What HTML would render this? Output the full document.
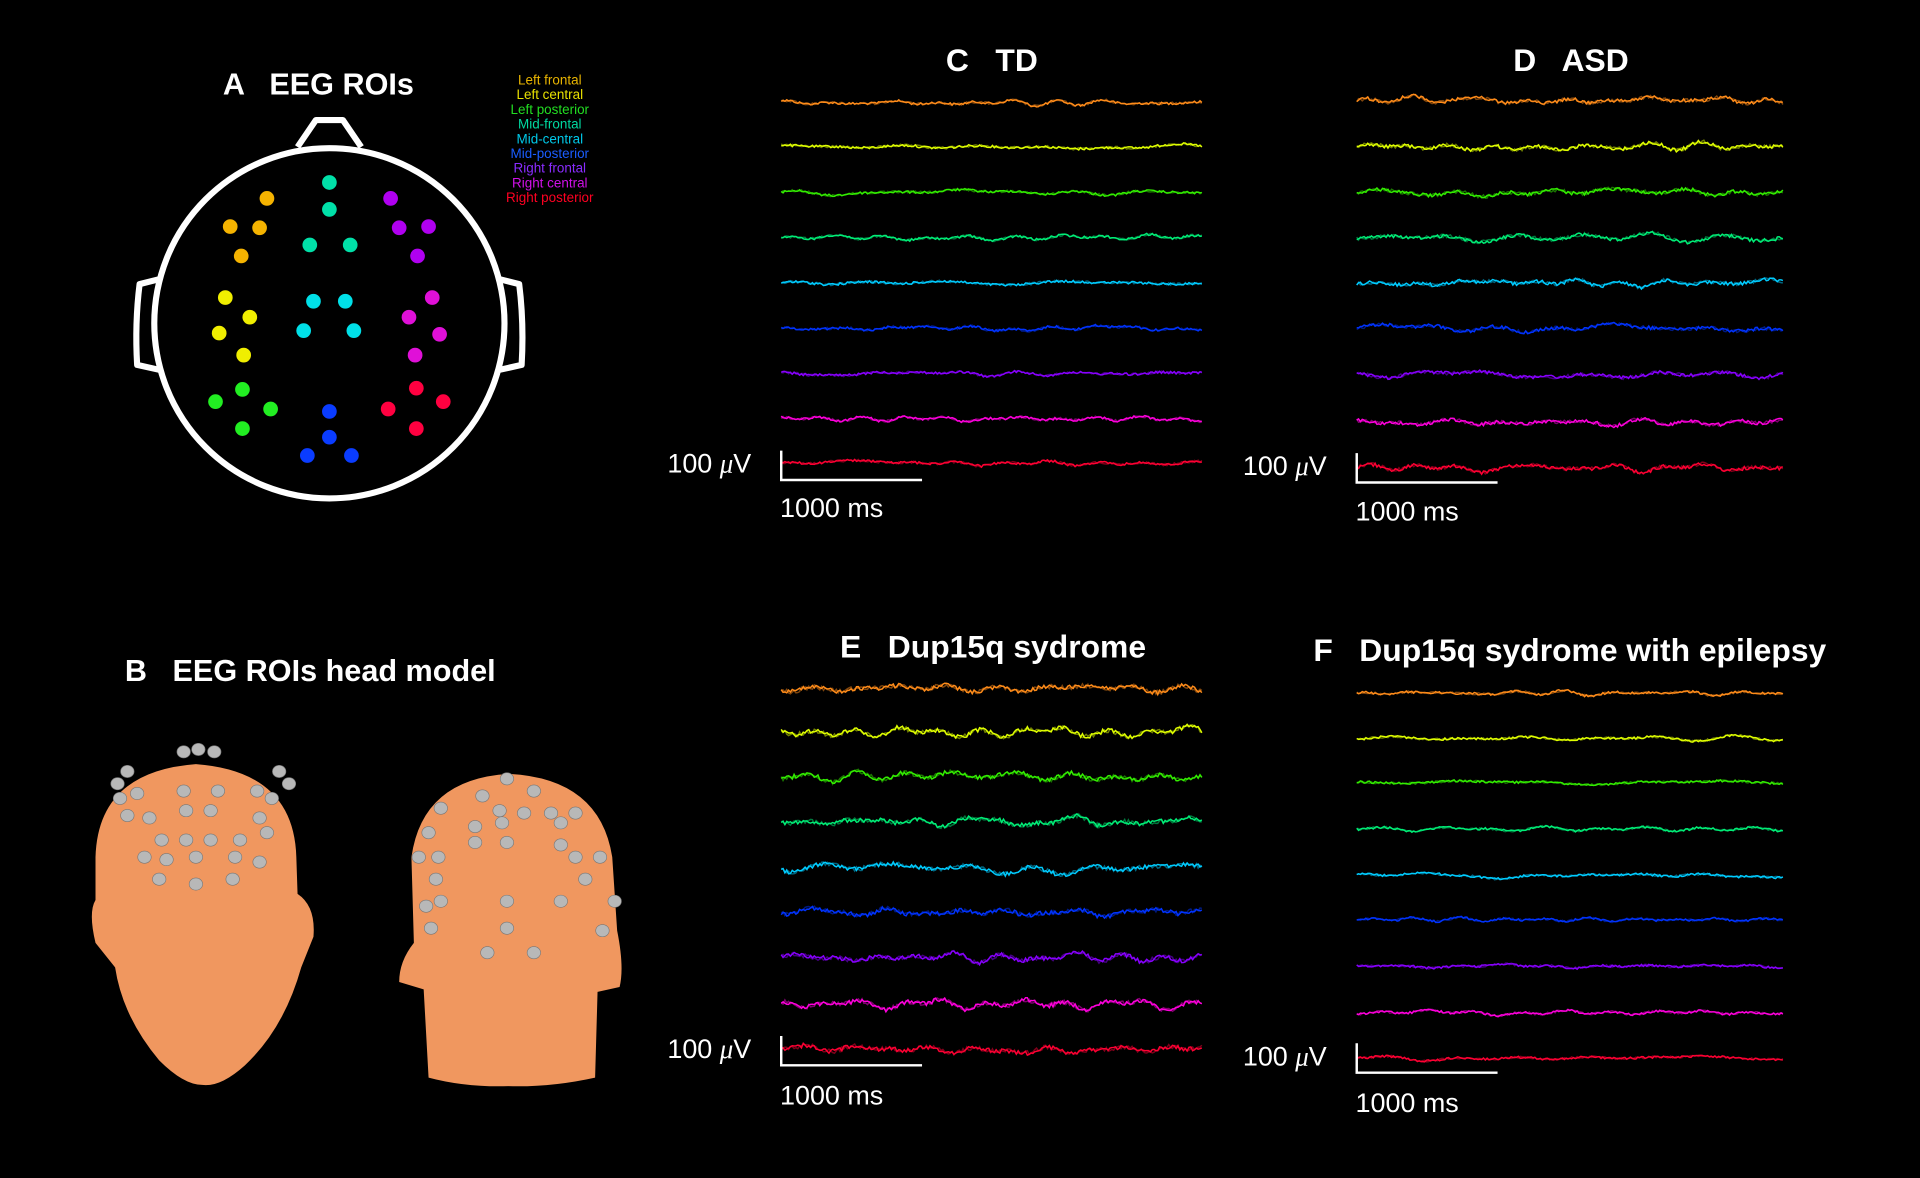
<!DOCTYPE html>
<html><head><meta charset="utf-8"><style>
html,body{margin:0;padding:0;background:#000;width:1920px;height:1178px;overflow:hidden}
svg{display:block}
text{font-family:"Liberation Sans",Arial,sans-serif;fill:#fff;white-space:pre}
</style></head><body>
<svg id="s" width="1920" height="1178" viewBox="0 0 1568 962" xmlns="http://www.w3.org/2000/svg" xml:space="preserve">
<rect width="1568" height="962" fill="#000"/>
<text x="182" y="77" font-size="25" font-weight="bold">A   EEG ROIs</text>
<g font-size="11" text-anchor="middle">
<text x="449" y="69" style="fill:#e8b400">Left frontal</text>
<text x="449" y="81" style="fill:#e8e000">Left central</text>
<text x="449" y="93" style="fill:#22dd22">Left posterior</text>
<text x="449" y="105" style="fill:#00d8a0">Mid-frontal</text>
<text x="449" y="117" style="fill:#00c8e8">Mid-central</text>
<text x="449" y="129" style="fill:#1a5cff">Mid-posterior</text>
<text x="449" y="141" style="fill:#8a2cff">Right frontal</text>
<text x="449" y="153" style="fill:#d010e8">Right central</text>
<text x="449" y="165" style="fill:#ff0022">Right posterior</text>
</g>
<g fill="none" stroke="#fff" stroke-width="5" stroke-linejoin="round">
<path d="M243,120 L258,98 L280,98 L295,120"/>
<path d="M130,228 L114,232 Q110,264 112,298 L130,302"/>
<path d="M408,228 L424,232 Q428,264 426,298 L408,302"/>
<circle cx="269" cy="264" r="143" fill="#000"/>
</g>
<g id="dots"></g>
<text x="102" y="556" font-size="25" font-weight="bold">B   EEG ROIs head model</text>
<path fill="#f0975f" d="M78,700 Q80,630 160,624 Q240,630 242,700 L243,730 Q258,740 256,765 L246,790 Q232,840 200,870 Q180,888 165,886 Q150,886 130,866 Q100,830 94,790 L78,770 Q72,745 78,735 Z"/>
<path fill="#f0975f" d="M336,700 Q345,636 416,632 Q490,636 500,700 L504,760 Q510,790 506,806 L488,810 L486,880 Q450,888 415,887 Q380,888 350,880 L346,808 L326,802 Q326,785 338,770 Z"/>
<g id="elec" fill="#b8b8b8" stroke="#777" stroke-width="0.5"></g>
<g font-size="26" font-weight="bold" text-anchor="middle">
<text x="810" y="58">C   TD</text>
<text x="1283" y="58">D   ASD</text>
<text x="811" y="537">E   Dup15q sydrome</text>
<text x="1282" y="540">F   Dup15q sydrome with epilepsy</text>
</g>
<g id="traces" fill="none" stroke-width="1.2"></g>
<g id="bars" stroke="#fff" stroke-width="2" fill="none"></g>
<g font-size="22" id="blabels"></g>
</svg>
<script>
var NS="http://www.w3.org/2000/svg";
function el(p,t,a,txt){var e=document.createElementNS(NS,t);for(var k in a)e.setAttribute(k,a[k]);if(txt)e.textContent=txt;p.appendChild(e);return e;}
var dots=document.getElementById('dots');
var D=[["#f5b300",[[218,162],[188,185],[212,186],[197,209]]],["#f0ee00",[[184,243],[204,259],[179,272],[199,290]]],["#22ee22",[[176,328],[198,318],[221,334],[198,350]]],["#00e0a8",[[269,149],[269,171],[253,200],[286,200]]],["#00e0e8",[[256,246],[282,246],[248,270],[289,270]]],["#0a3cff",[[269,336],[269,357],[251,372],[287,372]]],["#b000f0",[[319,162],[326,186],[350,185],[341,209]]],["#e010d8",[[353,243],[334,259],[359,273],[339,290]]],["#ff0040",[[317,334],[340,317],[362,328],[340,350]]]];
D.forEach(function(g){g[1].forEach(function(p){el(dots,'circle',{cx:p[0],cy:p[1],r:6,fill:g[0]});});});
var E=document.getElementById('elec');
[[162,612],[150,614],[175,614],[104,630],[96,640],[228,630],[236,640],[98,652],[112,648],[150,646],[178,646],[210,646],[222,652],[104,666],[122,668],[152,662],[172,662],[212,668],[218,680],[132,686],[152,686],[172,686],[196,686],[118,700],[136,702],[160,700],[192,700],[212,704],[130,718],[160,722],[190,718],
[414,636],[436,646],[394,650],[360,660],[408,662],[428,664],[450,664],[470,664],[350,680],[388,675],[410,672],[458,672],[388,688],[414,688],[458,690],[342,700],[358,700],[470,700],[490,700],[356,718],[478,718],[348,740],[360,736],[414,736],[458,736],[502,736],[352,758],[414,758],[492,760],[398,778],[436,778]
].forEach(function(p){el(E,'ellipse',{cx:p[0],cy:p[1],rx:5.5,ry:5});});
var seed=12345;function rnd(){seed=(seed*1103515245+12345)&0x7fffffff;return seed/0x7fffffff;}
var cols=["#ff8c1a","#e0ff00","#33ee00","#00ee77","#00ccff","#0033ff","#8800ff","#ff00dd","#ff0033"];
var panels=[
{x0:638,x1:982,ys:[84,120,157,194,231,268,305,342,378],a:2.2},
{x0:1108,x1:1456,ys:[82,120,157,194,231,268,306,345,382],a:3.2},
{x0:638,x1:982,ys:[562,598,634,671,709,745,782,820,857],a:4},
{x0:1108,x1:1456,ys:[566,603,639,677,715,751,789,827,864],a:2}];
var T=document.getElementById('traces');
panels.forEach(function(P){P.ys.forEach(function(y,i){
 var ph=[];for(var k=0;k<5;k++)ph.push([rnd()*6.28,1+rnd()*10]);
 for(var r=0;r<2;r++){var d="";var n=Math.round((P.x1-P.x0)/1.5);
  for(var j=0;j<=n;j++){var x=P.x0+j*1.5;var t=j/n;var v=0;
   ph.forEach(function(q){v+=Math.sin(q[0]+t*q[1]*6.28)*0.3;});
   v+=(rnd()-0.5)*0.9;
   d+=(j?"L":"M")+x.toFixed(1)+","+(y+v*P.a).toFixed(1);}
  el(T,'path',{d:d,stroke:cols[i],'stroke-opacity':r?0.5:1});}
});});
var B=document.getElementById('bars'),L=document.getElementById('blabels');
[[638,368,392,545,386,637,422],[1108,370,394,1015,388,1107,425],[638,846,870,545,864,637,902],[1108,852,876,1015,870,1107,908]].forEach(function(b){
 el(B,'path',{d:"M"+b[0]+","+b[1]+"L"+b[0]+","+b[2]+"L"+(b[0]+115)+","+b[2]});
 var t=el(L,'text',{x:b[3],y:b[4]});t.textContent="100 ";var s=el(t,'tspan',{'font-style':'italic','font-family':'Liberation Serif,serif'});s.textContent="μ";var s2=el(t,'tspan',{});s2.textContent="V";
 el(L,'text',{x:b[5],y:b[6]},"1000 ms");
});
</script>
</body></html>
